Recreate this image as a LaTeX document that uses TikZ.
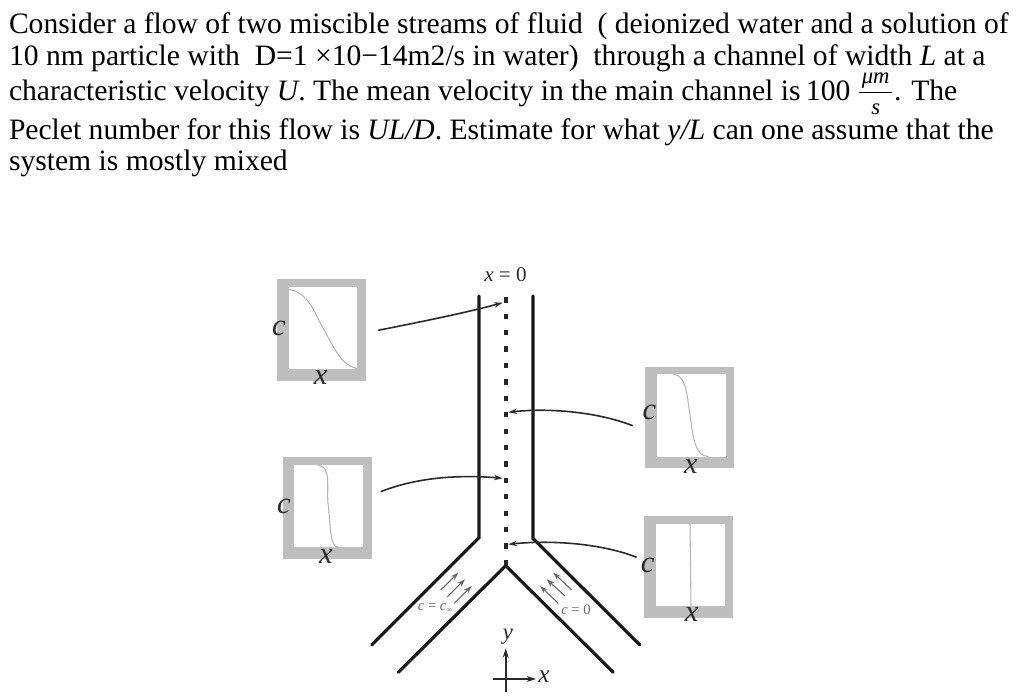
\documentclass[tikz,border=0pt]{standalone}
\usepackage{fontspec}
\setmainfont{Liberation Serif}
\usetikzlibrary{arrows.meta}
\definecolor{boxgray}{HTML}{BEBEBE}
\definecolor{inkdark}{HTML}{2A2A2A}
\definecolor{curvegray}{HTML}{B4B4B4}
\tikzset{
  para/.style={anchor=base west,inner sep=0pt,outer sep=0pt,font=\fontsize{22.2}{26}\selectfont,text=black},
  outerbox/.style={fill=boxgray,draw=none,minimum width=66.75pt,minimum height=76pt,inner sep=0pt},
  innerbox/.style={fill=white,draw=none,minimum width=51.5pt,minimum height=61.7pt,inner sep=0pt},
  wall/.style={line width=2.4pt,black!90,line cap=round,line join=miter},
  lead/.style={line width=1.2pt,inkdark,-{Stealth[length=6.5pt,width=4pt]}},
  flow/.style={line width=.8pt,black!60,-{Stealth[length=6pt,width=4pt]}},
  axisline/.style={line width=1.2pt,inkdark,-{Stealth[length=7pt,width=4.4pt]}},
  curve/.style={line width=.8pt,curvegray},
  biglabel/.style={inner sep=0pt,font=\fontsize{23}{23}\selectfont\itshape,text=inkdark},
  smalllabel/.style={inner sep=0pt,font=\fontsize{11}{11}\selectfont,text=black!60},
}
\begin{document}
\begin{tikzpicture}[x=0.75pt,y=-0.75pt]
\useasboundingbox (0,0) rectangle (1024,698);
% Text
\node[para] (l1) at (9,33.7) {Consider a flow of two miscible streams of fluid\ \ ( deionized water and a solution of};
\node[para] (l2) at (9,66) {10 nm particle with\ \ D=1 ×10−14m2/s in water)\ \ through a channel of width \textit{L} at a};
\node[para] (l3) at (9,101) {characteristic velocity \textit{U}. The mean velocity in the main channel is\hspace{-1.5pt} 100};
\node[para] (l3b) at (894,101) {. The};
\node[para] (l4) at (9,139.3) {Peclet number for this flow is \textit{UL/D}. Estimate for what \textit{y/L} can one assume that the};
\node[para] (l5) at (9,171) {system is mostly mixed};
\node[inner sep=0pt,anchor=base,font=\fontsize{17}{17}\selectfont\itshape] (fnum) at (875.7,84) {μm};
\node[inner sep=0pt,anchor=base,font=\fontsize{17}{17}\selectfont\itshape] (fden) at (875.7,115) {s};
\coordinate (fa) at (859,92.5); \coordinate (fb) at (892.3,92.5);
\draw[line width=.9pt] (fa) -- (fb);
% Boxes
\node[outerbox] (b1o) at (321.2,330) {}; \node[innerbox] (b1i) at (323,328.3) {};
\node[outerbox] (b2o) at (327.2,508) {}; \node[innerbox] (b2i) at (328.7,506.2) {};
\node[outerbox] (b3o) at (689.8,417.3) {}; \node[innerbox] (b3i) at (691.7,415.5) {};
\node[outerbox] (b4o) at (688.5,567) {}; \node[innerbox] (b4i) at (690.2,565.2) {};
% Curves
\draw[curve] (289,289.5) .. controls (310,293) and (315,315) .. (323,328) .. controls (333,345) and (340,365) .. (357,368.5);
\draw[curve] (318.3,465.3) .. controls (332,466) and (326,490) .. (328.3,506) .. controls (331,530) and (330,547) .. (338.3,547);
\draw[curve] (673.3,374.3) .. controls (687,375) and (687,398) .. (690,415) .. controls (693,437) and (695,456.5) .. (708.3,456.5);
\draw[curve] (690,524) -- (691,606.3);
% Box labels
\node[biglabel] (c1) at (279,328) {c}; \node[biglabel] (x1) at (320.7,377) {x};
\node[biglabel] (c2) at (284,506) {c}; \node[biglabel] (x2) at (326,556) {x};
\node[biglabel] (c3) at (649.3,412) {c}; \node[biglabel] (x3) at (691,466) {x};
\node[biglabel] (c4) at (647.7,565) {c}; \node[biglabel] (x4) at (691.7,614) {x};
% Channel
\coordinate (lt) at (479,296); \coordinate (lk) at (479,537.7); \coordinate (le) at (371.7,645);
\coordinate (rt) at (533,296); \coordinate (rk) at (533,538.5); \coordinate (re) at (640,645);
\coordinate (ap) at (505.7,565.7); \coordinate (il) at (398.3,672.3); \coordinate (ir) at (613.3,672.3);
\draw[wall] (lt) -- (lk) -- (le);
\draw[wall] (rt) -- (rk) -- (re);
\draw[wall] (il) -- (ap) -- (ir);
\coordinate (ct) at (506,297.3); \coordinate (cb) at (506,564.7);
\draw[line width=2.4pt,black!85,dash pattern=on 4pt off 8.3pt] (ct) -- (cb);
\node[inner sep=0pt,font=\fontsize{15.8}{16}\selectfont,text=inkdark] (x0) at (505.5,275) {\textit{x} = 0};
% Leaders
\coordinate (a1s) at (378.3,330.3); \coordinate (a1e) at (502.7,302.7);
\coordinate (a2s) at (380.7,491.7); \coordinate (a2e) at (502.7,478.3);
\coordinate (a3s) at (632.7,425.7); \coordinate (a3e) at (508.3,412.3);
\coordinate (a4s) at (636.7,557.3); \coordinate (a4e) at (508.3,544.3);
\draw[lead] (a1s) .. controls (420,322) and (465,313) .. (a1e);
\draw[lead] (a2s) .. controls (420,476) and (465,475) .. (a2e);
\draw[lead] (a3s) .. controls (595,411) and (545,408) .. (a3e);
\draw[lead] (a4s) .. controls (600,543) and (550,540) .. (a4e);
% Flow arrows
\coordinate (f1s) at (440.7,590); \coordinate (f1e) at (458.3,572.7);
\coordinate (f2s) at (447.3,596.7); \coordinate (f2e) at (465,579.3);
\coordinate (f3s) at (454.3,603.3); \coordinate (f3e) at (471.7,586);
\coordinate (f4s) at (571.7,590); \coordinate (f4e) at (553.3,572.7);
\coordinate (f5s) at (565,596); \coordinate (f5e) at (546.7,579.3);
\coordinate (f6s) at (558.3,603.3); \coordinate (f6e) at (540,586);
\foreach \s/\e in {f1s/f1e,f2s/f2e,f3s/f3e,f4s/f4e,f5s/f5e,f6s/f6e} \draw[flow] (\s) -- (\e);
\node[smalllabel] (cinf) at (435,608) {\textit{c} = \textit{c}\raisebox{-.3ex}{\fontsize{6}{6}\selectfont∞}};
\node[smalllabel] (czero) at (576,610) {\textit{c} = 0};
% Axes
\coordinate (ya) at (505.7,691.7); \coordinate (yb) at (505.7,648.3);
\coordinate (xa) at (492.7,679); \coordinate (xb) at (536,679);
\draw[axisline] (ya) -- (yb);
\draw[axisline] (xa) -- (xb);
\node[inner sep=0pt,font=\fontsize{17}{17}\selectfont\itshape,text=inkdark] (ylab) at (508,637) {y};
\node[inner sep=0pt,font=\fontsize{19}{19}\selectfont\itshape,text=inkdark] (xlab) at (544,677) {x};
\end{tikzpicture}
\end{document}
